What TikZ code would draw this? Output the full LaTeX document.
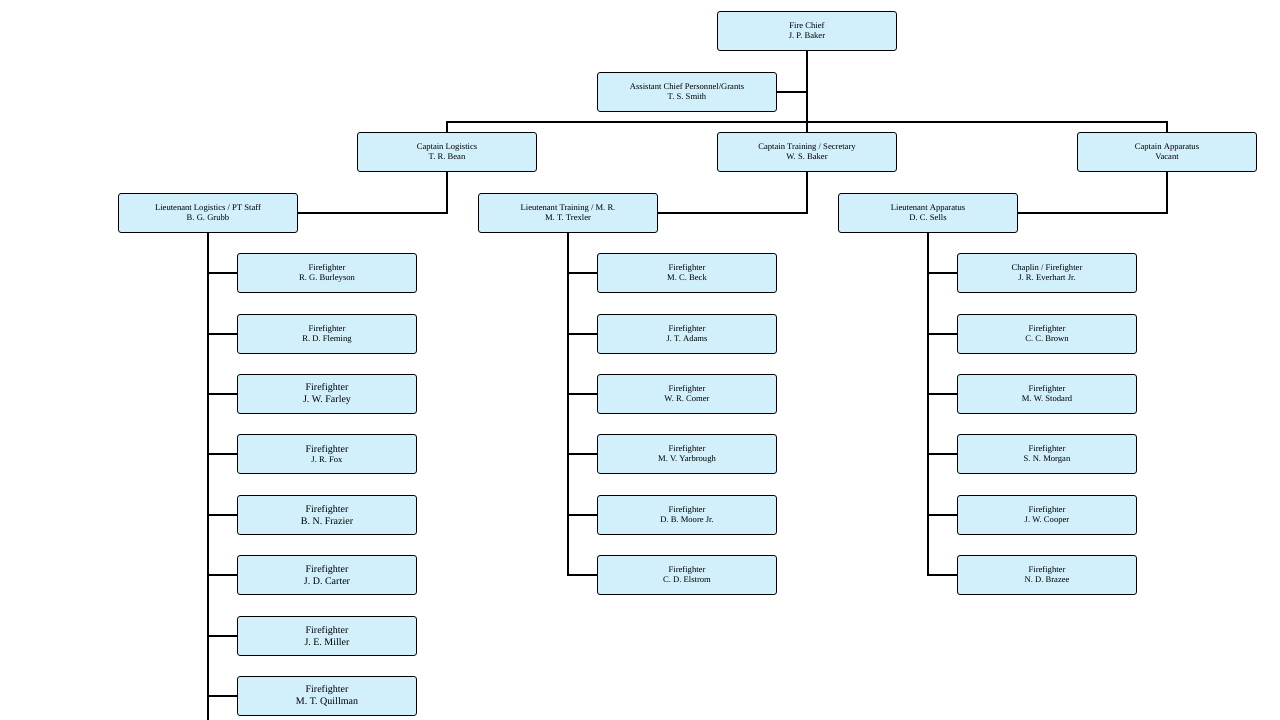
\documentclass[tikz,border=0pt]{standalone}
\usepackage{fontspec}
\setmainfont{Liberation Serif}
\begin{document}
\begin{tikzpicture}[x=1pt,y=-1pt,
 box/.style={draw=black,line width=0.8pt,fill=cyan!18,rounded corners=2.5pt,minimum width=179pt,minimum height=39pt,align=center,inner sep=1pt,font=\fontsize{8.6}{10}\selectfont},
 big/.style={font=\fontsize{10}{11.5}\selectfont},
 ln/.style={line width=2.6pt}]
\useasboundingbox (0,0) rectangle (1280,720);
\node[box] (chief) at (807,31) {Fire Chief\\J. P. Baker};
\node[box] (asst) at (687,92) {Assistant Chief Personnel/Grants\\T. S. Smith};
\node[box] (cl) at (447,152) {Captain Logistics\\T. R. Bean};
\node[box] (ct) at (807,152) {Captain Training / Secretary\\W. S. Baker};
\node[box] (ca) at (1167,152) {Captain Apparatus\\Vacant};
\node[box] (ll) at (208,213) {Lieutenant Logistics / PT Staff\\B. G. Grubb};
\node[box] (lt) at (568,213) {Lieutenant Training / M. R.\\M. T. Trexler};
\node[box] (la) at (928,213) {Lieutenant Apparatus\\D. C. Sells};
\coordinate (bar) at (807,122);
\draw[ln] (chief.south) -- (bar);
\draw[ln] (asst.east) -- (807,92);
\draw[ln] (cl.north) |- (bar) -| (ca.north);
\draw[ln] (bar) -- (ct.north);
\draw[ln] (cl.south) |- (ll.east);
\draw[ln] (ct.south) |- (lt.east);
\draw[ln] (ca.south) |- (la.east);
% column 1
\node[box] (a1) at (327,273) {Firefighter\\R. G. Burleyson};
\node[box] (a2) at (327,334) {Firefighter\\R. D. Fleming};
\node[box,big] (a3) at (327,394) {Firefighter\\J. W. Farley};
\node[box] (a4) at (327,454) {{\fontsize{10}{11.5}\selectfont Firefighter}\\J. R. Fox};
\node[box,big] (a5) at (327,515) {Firefighter\\B. N. Frazier};
\node[box,big] (a6) at (327,575) {Firefighter\\J. D. Carter};
\node[box,big] (a7) at (327,636) {Firefighter\\J. E. Miller};
\node[box,big] (a8) at (327,696) {Firefighter\\M. T. Quillman};
\coordinate (e1) at (208,720);
\draw[ln] (ll.south) -- (e1);
\foreach \n in {a1,a2,a3,a4,a5,a6,a7,a8} \draw[ln] (\n.west) -- (\n.west -| ll.south);
% column 2
\node[box] (b1) at (687,273) {Firefighter\\M. C. Beck};
\node[box] (b2) at (687,334) {Firefighter\\J. T. Adams};
\node[box] (b3) at (687,394) {Firefighter\\W. R. Comer};
\node[box] (b4) at (687,454) {Firefighter\\M. V. Yarbrough};
\node[box] (b5) at (687,515) {Firefighter\\D. B. Moore Jr.};
\node[box] (b6) at (687,575) {Firefighter\\C. D. Elstrom};
\draw[ln] (lt.south) |- (b6.west);
\foreach \n in {b1,b2,b3,b4,b5} \draw[ln] (\n.west) -- (\n.west -| lt.south);
% column 3
\node[box] (c1) at (1047,273) {Chaplin / Firefighter\\J. R. Everhart Jr.};
\node[box] (c2) at (1047,334) {Firefighter\\C. C. Brown};
\node[box] (c3) at (1047,394) {Firefighter\\M. W. Stodard};
\node[box] (c4) at (1047,454) {Firefighter\\S. N. Morgan};
\node[box] (c5) at (1047,515) {Firefighter\\J. W. Cooper};
\node[box] (c6) at (1047,575) {Firefighter\\N. D. Brazee};
\draw[ln] (la.south) |- (c6.west);
\foreach \n in {c1,c2,c3,c4,c5} \draw[ln] (\n.west) -- (\n.west -| la.south);
\end{tikzpicture}
\end{document}
